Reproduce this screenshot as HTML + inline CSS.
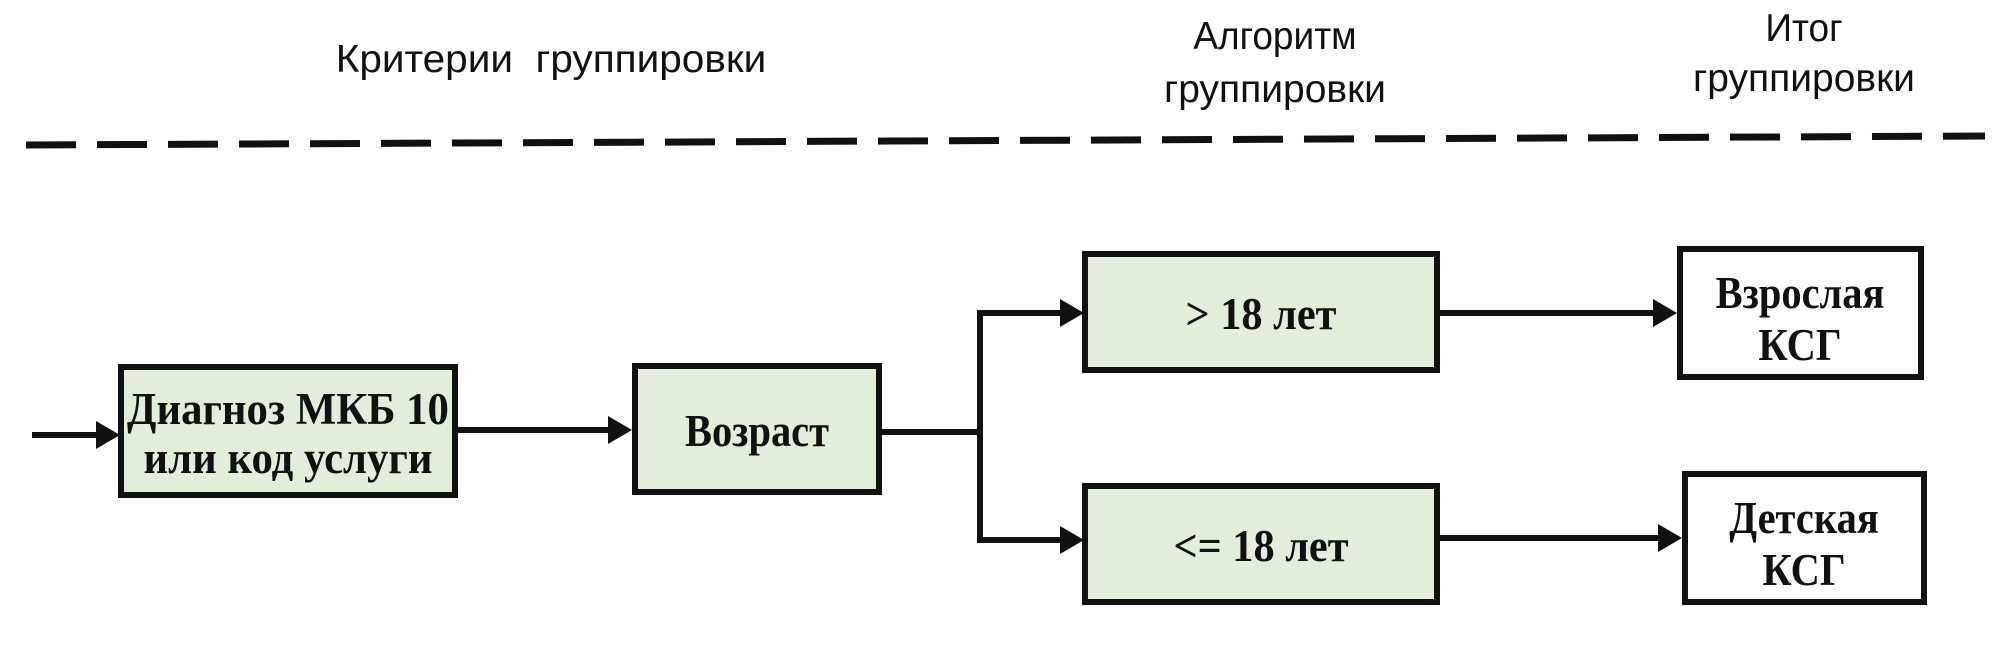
<!DOCTYPE html>
<html><head><meta charset="utf-8"><style>
html,body{margin:0;padding:0;background:#fff;}
svg{display:block;}
.h{font-family:"Liberation Sans",sans-serif;font-size:39px;fill:#111;}
.b{font-family:"Liberation Serif",serif;font-weight:bold;font-size:46px;fill:#111;}
</style></head><body>
<svg width="2009" height="645" viewBox="0 0 2009 645" xmlns="http://www.w3.org/2000/svg">
<text class="h" x="551" y="72" text-anchor="middle" xml:space="preserve" transform="translate(551 0) scale(1.04 1) translate(-551 0)">Критерии  группировки</text>
<text class="h" x="1275" y="49" text-anchor="middle" transform="translate(1275 0) scale(0.95 1) translate(-1275 0)">Алгоритм</text>
<text class="h" x="1275" y="102" text-anchor="middle">группировки</text>
<text class="h" x="1804" y="41" text-anchor="middle" transform="translate(1804 0) scale(0.95 1) translate(-1804 0)">Итог</text>
<text class="h" x="1804" y="91" text-anchor="middle">группировки</text>
<line x1="26" y1="145" x2="1985" y2="136" stroke="#111" stroke-width="7" stroke-dasharray="50,21"/>
<g stroke="#111" stroke-width="6" fill="none">
<line x1="32" y1="435" x2="100" y2="435"/>
<line x1="458" y1="430" x2="610" y2="430"/>
<polyline points="881,432 980,432"/>
<polyline points="1062,313 980,313 980,540 1062,540"/>
<line x1="1440" y1="313" x2="1655" y2="313"/>
<line x1="1440" y1="538" x2="1660" y2="538"/>
</g>
<g fill="#111">
<polygon points="96,421 120,435 96,449"/>
<polygon points="608,416 632,430 608,444"/>
<polygon points="1060,299 1084,313 1060,327"/>
<polygon points="1060,526 1084,540 1060,554"/>
<polygon points="1653,299 1677,313 1653,327"/>
<polygon points="1658,524 1682,538 1658,552"/>
</g>
<g stroke="#111" stroke-width="6">
<rect x="121" y="367" width="334" height="128" fill="#e2eed9"/>
<rect x="635" y="366" width="244" height="126" fill="#e2eed9"/>
<rect x="1085" y="254" width="352" height="116" fill="#e2eed9"/>
<rect x="1085" y="486" width="352" height="116" fill="#e2eed9"/>
<rect x="1680" y="249" width="241" height="128" fill="#fff"/>
<rect x="1685" y="474" width="239" height="128" fill="#fff"/>
</g>
<g class="b" text-anchor="middle">
<text x="288" y="424" transform="translate(288 0) scale(0.93 1) translate(-288 0)">Диагноз  МКБ 10</text>
<text x="288" y="473" transform="translate(288 0) scale(0.93 1) translate(-288 0)">или код  услуги</text>
<text x="757" y="446" transform="translate(757 0) scale(0.88 1) translate(-757 0)">Возраст</text>
<text x="1261" y="329" transform="translate(1261 0) scale(0.92 1) translate(-1261 0)">&gt; 18 лет</text>
<text x="1261" y="561" transform="translate(1261 0) scale(0.92 1) translate(-1261 0)">&lt;= 18 лет</text>
<text x="1800" y="308" transform="translate(1800 0) scale(0.88 1) translate(-1800 0)">Взрослая</text>
<text x="1800" y="360" transform="translate(1800 0) scale(0.88 1) translate(-1800 0)">КСГ</text>
<text x="1804" y="533" transform="translate(1804 0) scale(0.88 1) translate(-1804 0)">Детская</text>
<text x="1804" y="585" transform="translate(1804 0) scale(0.88 1) translate(-1804 0)">КСГ</text>
</g>
</svg>
</body></html>
